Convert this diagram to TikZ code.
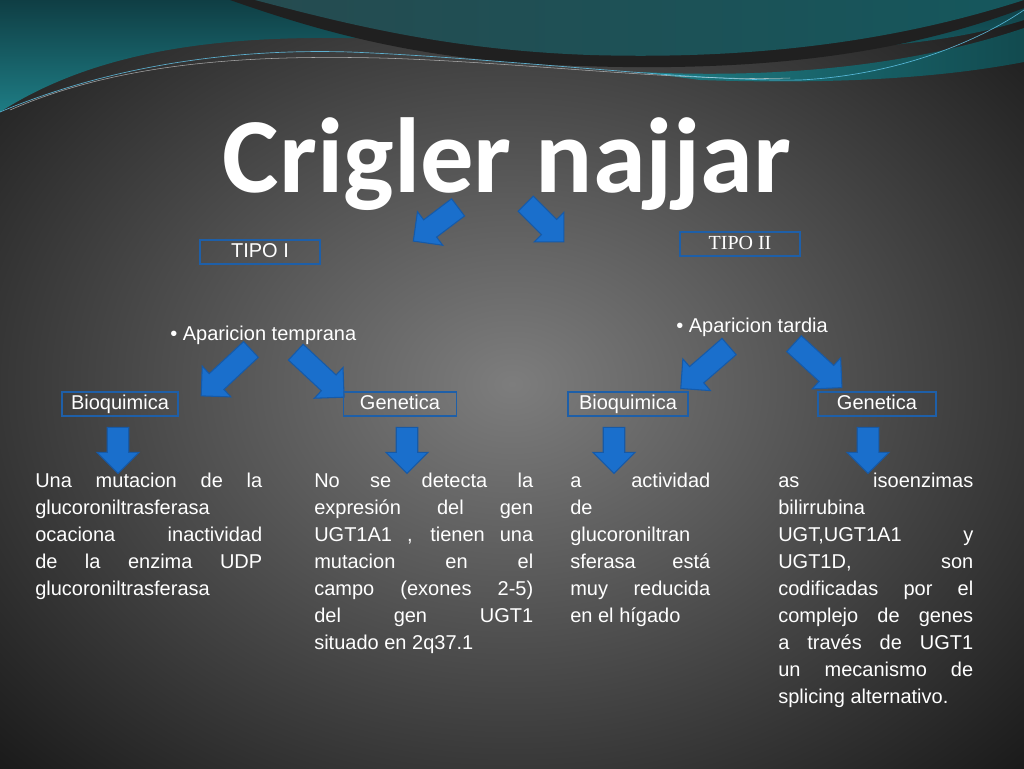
\documentclass[tikz,border=0pt]{standalone}
\usepackage{fontspec}
\setmainfont{Liberation Sans}
\newfontfamily\titlefont{Carlito}
\newfontfamily\serifff{Liberation Serif}
\usetikzlibrary{shapes.arrows}
\definecolor{arrblue}{HTML}{1A6FCC}
\definecolor{arredge}{HTML}{165AA8}
\definecolor{boxblue}{HTML}{1E5FA8}
\definecolor{tealA}{HTML}{1E7C84}
\definecolor{tealB}{HTML}{0F3E44}
\newcommand{\jl}[1]{\hbox to \hsize{\spaceskip=0.28em plus 1fil\xspaceskip=0.28em plus 1fil #1}}
\newlength{\pxu}\setlength{\pxu}{0.75pt}
\tikzset{
  barrow/.style={single arrow, fill=arrblue, draw=arredge, line width=0.8pt,
    minimum width=42\pxu, single arrow head extend=10\pxu, single arrow head indent=0pt,
    inner xsep=0pt, inner ysep=10\pxu, anchor=center},
  lbl/.style={draw=boxblue, line width=1.4pt, text=white, inner sep=0pt, text height=11pt, text depth=3pt, font=\fontsize{15}{18}\selectfont},
  body/.style={text=white, anchor=north west, inner sep=0pt,
    font=\fontsize{15}{20.25}\selectfont},
}
\begin{document}
\begin{tikzpicture}[x=0.75pt,y=-0.75pt]
\useasboundingbox (0,0) rectangle (1024,768);
% background
\shade[inner color={rgb,255:red,125;green,125;blue,125}, outer color={rgb,255:red,20;green,20;blue,20}] (-250,-200) rectangle (1274,968);
% waves
\shade[top color=tealB, bottom color=tealA]
  (0,0) -- (1024,0) -- (1024,20) .. controls (900,60) and (700,55) .. (450,42)
  .. controls (280,32) and (120,35) .. (0,112) -- cycle;
\fill[gray!25!black] (230,0) .. controls (330,35) and (430,62) .. (580,66)
  .. controls (760,72) and (900,55) .. (1024,8) -- (1024,0) -- cycle;
\shade[left color=tealB!80!gray, right color=tealA!70!black]
  (255,0) .. controls (350,25) and (450,50) .. (590,55)
  .. controls (760,60) and (900,40) .. (1024,0) -- cycle;
\shade[left color=tealA, right color=tealA!60!black]
  (640,72) .. controls (800,80) and (930,60) .. (1024,28) -- (1024,62)
  .. controls (930,80) and (820,84) .. (700,80) -- cycle;
\draw[cyan!60!white, line width=0.5pt, opacity=0.8]
  (0,112) .. controls (100,70) and (220,48) .. (350,52) .. controls (500,58) and (700,82) .. (800,80)
  .. controls (900,75) and (980,40) .. (1024,10);
\draw[white!70!gray, line width=0.4pt, opacity=0.7]
  (10,110) .. controls (120,62) and (250,55) .. (380,58) .. controls (520,62) and (680,82) .. (790,78);
% title
\node (title) [text=white, font=\titlefont\bfseries\fontsize{80}{86}\selectfont] at (507,164) {Crigler najjar};
% level 1
\node (t1) [lbl, minimum width=120\pxu, minimum height=24\pxu] at (260,252) {TIPO I};
\node (t2) [lbl, minimum width=120\pxu, minimum height=24\pxu, font=\serifff\fontsize{15}{18}\selectfont] at (740,244) {TIPO II};
\node (a1) [barrow, minimum height=56\pxu, rotate=217] at (440,221) {};
\node (a2) [barrow, minimum height=54\pxu, rotate=-45] at (541,219) {};
% bullets
\node (ap1) [text=white, anchor=base west, inner sep=0pt, font=\fontsize{15}{18}\selectfont] at (170,340) {\textbullet\ Aparicion temprana};
\node (ap2) [text=white, anchor=base west, inner sep=0pt, font=\fontsize{15}{18}\selectfont] at (676,332) {\textbullet\ Aparicion tardia};
\node (a3) [barrow, minimum height=68\pxu, rotate=223] at (230,369) {};
\node (a4) [barrow, minimum height=66\pxu, rotate=-43] at (316,371) {};
\node (a5) [barrow, minimum height=64\pxu, rotate=221] at (709,364) {};
\node (a6) [barrow, minimum height=65\pxu, rotate=-42.5] at (814,362) {};
% level 2 boxes
\node (b1) [lbl, minimum width=116\pxu, minimum height=24\pxu] at (120,404) {Bioquimica};
\node (g1) [lbl, minimum width=113\pxu, minimum height=24\pxu] at (400,404) {Genetica};
\node (b2) [lbl, minimum width=120\pxu, minimum height=24\pxu] at (628,404) {Bioquimica};
\node (g2) [lbl, minimum width=118\pxu, minimum height=24\pxu] at (877,404) {Genetica};
% down arrows
\node (d1) [barrow, minimum height=46\pxu, rotate=-90] at (118,445) {};
\node (d2) [barrow, minimum height=46\pxu, rotate=-90] at (407,445) {};
\node (d3) [barrow, minimum height=46\pxu, rotate=-90] at (614,445) {};
\node (d4) [barrow, minimum height=46\pxu, rotate=-90] at (868,445) {};
% texts
\node (x1) [body, text width=227\pxu] at (35,473) {%
\jl{Una mutacion de la}
\jl{glucoroniltrasferasa\hfil}
\jl{ocaciona inactividad}
\jl{de la enzima UDP}
\jl{glucoroniltrasferasa\hfil}};
\node (x2) [body, text width=219\pxu] at (314,473) {%
\jl{No se detecta la}
\jl{expresión del gen}
\jl{UGT1A1 , tienen una}
\jl{mutacion en el}
\jl{campo (exones 2-5)}
\jl{del gen UGT1}
\jl{\spaceskip=0.28em situado en 2q37.1\hfil}};
\node (x3) [body, text width=140\pxu] at (570,473) {%
\jl{La actividad}
\jl{de\hfil}
\jl{glucoroniltran\hfil}
\jl{sferasa está}
\jl{muy reducida}
\jl{\spaceskip=0.28em en el hígado\hfil}};
\node (x4) [body, text width=195\pxu] at (778,473) {%
\jl{Las isoenzimas}
\jl{bilirrubina\hfil}
\jl{UGT,UGT1A1 y}
\jl{UGT1D, son}
\jl{codificadas por el}
\jl{complejo de genes}
\jl{a través de UGT1}
\jl{un mecanismo de}
\jl{\spaceskip=0.28em splicing alternativo.\hfil}};
\end{tikzpicture}
\end{document}
